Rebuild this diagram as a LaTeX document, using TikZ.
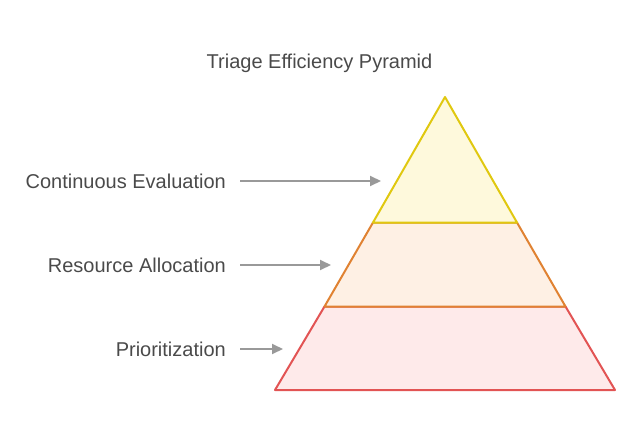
\documentclass[tikz,border=0pt]{standalone}
\usepackage{fontspec}
\setmainfont{Liberation Sans}
\usetikzlibrary{arrows.meta}
\definecolor{txt}{HTML}{4A4A4A}
\definecolor{arr}{HTML}{999999}
\definecolor{ys}{HTML}{E0C810}
\definecolor{yf}{HTML}{FEF9DC}
\definecolor{os}{HTML}{E08232}
\definecolor{of}{HTML}{FEF0E4}
\definecolor{rs}{HTML}{E25454}
\definecolor{rf}{HTML}{FEEAEA}
\tikzset{
  lab/.style={anchor=base east,inner sep=0pt,text=txt,font=\fontsize{20}{23}\selectfont},
  conn/.style={draw=arr,line width=2pt,-{Triangle[length=11pt,width=10pt]}},
  tier/.style={line width=2pt,line join=round}
}
\begin{document}
\begin{tikzpicture}[x=1pt,y=-1pt]
\useasboundingbox (0,0) rectangle (640,441);
% pyramid geometry
\coordinate (apex) at (445,97);
\coordinate (l1) at (373,222.5);
\coordinate (r1) at (517,222.5);
\coordinate (l2) at (324.5,306.5);
\coordinate (r2) at (565.5,306.5);
\coordinate (bl) at (275,390);
\coordinate (br) at (615,390);
% tiers
\draw[tier,draw=rs,fill=rf] (l2) -- (r2) -- (br) -- (bl) -- cycle;
\draw[tier,draw=os,fill=of] (l1) -- (r1) -- (r2) -- (l2) -- cycle;
\draw[tier,draw=ys,fill=yf] (apex) -- (r1) -- (l1) -- cycle;
% title
\node[anchor=base,inner sep=0pt,text=txt,font=\fontsize{20}{23}\selectfont] (title) at (319.5,68.5) {Triage Efficiency Pyramid};
% labels
\node[lab] (ce) at (226,188) {Continuous Evaluation};
\node[lab] (ra) at (226,272) {Resource Allocation};
\node[lab] (pr) at (226,356) {Prioritization};
% arrow tips
\coordinate (tce) at (381,181);
\coordinate (tra) at (331,265);
\coordinate (tpr) at (283,349);
\draw[conn] (240,181) -- (tce);
\draw[conn] (240,265) -- (tra);
\draw[conn] (240,349) -- (tpr);
\end{tikzpicture}
\end{document}
